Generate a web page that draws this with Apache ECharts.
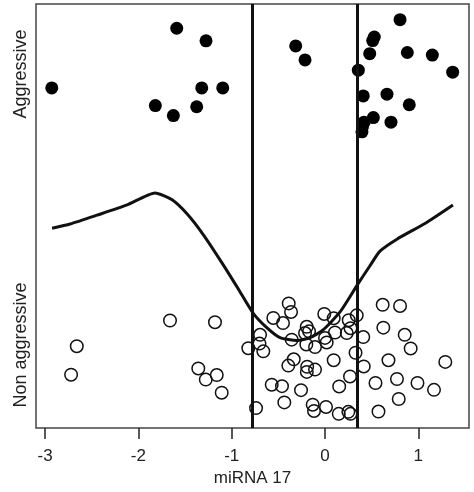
<!DOCTYPE html>
<html>
<head>
<meta charset="utf-8">
<script src="https://cdn.jsdelivr.net/npm/echarts@6/dist/echarts.min.js"></script>
<style>html,body{margin:0;padding:0;background:#fff;}#c{width:474px;height:492px;}</style>
</head>
<body>
<div id="c"></div>
<script>
// miRNA 17 expression (x) and jittered outcome position (y: 1 = aggressive, 0 = non aggressive)
var aggX = [-2.928,-1.589,-1.275,-1.321,-1.096,-1.818,-1.625,-1.375,0.804,0.528,0.511,-0.314,-0.214,0.479,0.882,1.150,0.357,1.368,0.410,0.664,0.903,0.518,0.707,0.418,0.402,0.396];
var aggY = [0.951,1.160,1.116,0.951,0.951,0.889,0.854,0.885,1.190,1.129,1.117,1.098,1.049,1.071,1.075,1.066,1.013,1.006,0.923,0.929,0.892,0.847,0.831,0.831,0.816,0.797];

var nonX = [-1.661,-1.179,-2.660,-2.721,-1.358,-1.278,-1.160,-1.107,
  -0.389,-0.364,-0.554,-0.450,-0.008,0.093,0.254,0.340,-0.196,-0.171,-0.214,-0.696,-0.357,0.000,0.107,0.233,0.273,0.410,
  -0.822,-0.702,-0.661,-0.200,-0.107,0.018,0.327,-0.335,-0.393,-0.191,-0.107,-0.195,0.093,0.415,0.268,
  -0.571,-0.461,-0.257,0.152,-0.739,-0.436,-0.132,-0.118,0.011,0.147,0.250,0.273,
  0.618,0.804,0.625,0.854,0.918,0.680,1.289,0.541,0.771,0.991,1.168,0.790,0.573];
var nonY = [0.136,0.130,0.046,-0.054,-0.032,-0.071,-0.055,-0.117,
  0.196,0.166,0.145,0.127,0.159,0.144,0.137,0.154,0.114,0.098,0.092,0.086,0.069,0.075,0.094,0.092,0.109,0.078,
  0.039,0.055,0.028,0.052,0.043,0.059,0.023,0.000,-0.022,-0.026,-0.036,-0.044,-0.003,-0.025,-0.060,
  -0.089,-0.094,-0.108,-0.095,-0.171,-0.151,-0.159,-0.181,-0.167,-0.191,-0.184,-0.191,
  0.191,0.187,0.111,0.086,0.038,-0.003,-0.009,-0.083,-0.069,-0.083,-0.107,-0.139,-0.183];

// fitted probability curve
var curveX = [-2.925,-2.732,-2.443,-2.121,-1.821,-1.639,-1.479,-1.307,-1.104,-0.932,-0.771,-0.621,-0.482,-0.300,-0.161,-0.021,0.161,0.343,0.482,0.589,0.771,1.071,1.371];
var curveY = [0.459,0.474,0.505,0.541,0.583,0.559,0.510,0.438,0.338,0.248,0.162,0.110,0.076,0.066,0.076,0.103,0.166,0.259,0.328,0.379,0.421,0.476,0.541];

// cut-off lines
var cutoffs = [-0.78, 0.355];

var xTicks = [-3,-2,-1,0,1];
var yLabelValues = [0.05, 1.0];
var yLabelNames = {'0.05':'Non aggressive','1':'Aggressive'};

function zip(a,b){ return a.map(function(v,i){return [v,b[i]];}); }

var chart = echarts.init(document.getElementById('c'), null, {renderer:'canvas'});
chart.setOption({
  animation:false,
  backgroundColor:'#fff',
  textStyle:{fontFamily:'Liberation Sans, Arial, sans-serif'},
  grid:{left:36,right:5,top:4,bottom:57,show:true,borderColor:'#444',borderWidth:1.5,backgroundColor:'transparent'},
  xAxis:{
    type:'value',min:-3.097,max:1.543,
    name:'miRNA 17',nameLocation:'middle',nameGap:39,
    nameTextStyle:{fontSize:17,color:'#222',fontFamily:'Liberation Sans, Arial, sans-serif'},
    axisLine:{show:false,onZero:false},
    splitLine:{show:false},
    axisTick:{show:true,customValues:xTicks,length:11,lineStyle:{color:'#222',width:1.5}},
    axisLabel:{customValues:xTicks,margin:20,fontSize:17,color:'#222',fontFamily:'Liberation Sans, Arial, sans-serif'}
  },
  yAxis:{
    type:'value',min:-0.241,max:1.245,
    axisLine:{show:false,onZero:false},splitLine:{show:false},axisTick:{show:false},
    axisLabel:{customValues:yLabelValues,rotate:90,margin:6,fontSize:18,color:'#222',
      fontFamily:'Liberation Sans, Arial, sans-serif',
      formatter:function(v){ return yLabelNames[String(Math.round(v*100)/100)] || ''; }}
  },
  series:[
    {type:'line',data:zip(curveX,curveY),showSymbol:false,smooth:0.2,
      lineStyle:{color:'#111',width:3},z:3,
      markLine:{silent:true,symbol:'none',label:{show:false},
        lineStyle:{color:'#111',width:3,type:'solid'},
        data:cutoffs.map(function(c){return {xAxis:c};})}},
    {type:'scatter',data:zip(aggX,aggY),symbol:'circle',symbolSize:13,
      itemStyle:{color:'#000',opacity:1},z:4},
    {type:'scatter',data:zip(nonX,nonY),symbol:'circle',symbolSize:12.5,
      itemStyle:{color:'rgba(255,255,255,0)',borderColor:'#111',borderWidth:1.5,opacity:1},z:4}
  ]
});
</script>
</body>
</html>
